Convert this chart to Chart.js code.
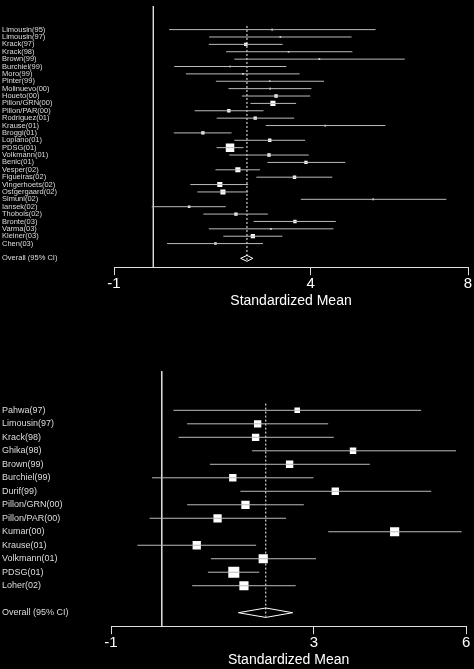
<!DOCTYPE html>
<html><head><meta charset="utf-8">
<script src="https://cdn.jsdelivr.net/npm/chart.js@4/dist/chart.umd.min.js"></script>
<style>
body{margin:0;background:#000;width:474px;height:669px;overflow:hidden;position:relative}
.box{position:absolute;left:0;width:474px}
</style></head><body>
<div class="box" style="top:0;height:310px"><canvas id="top"></canvas></div>
<div class="box" style="top:358px;height:311px"><canvas id="bottom"></canvas></div>
<script>
// top panel
const topStudies = ['Limousin(95)','Limousin(97)','Krack(97)','Krack(98)','Brown(99)','Burchiel(99)','Moro(99)','Pinter(99)','Molinuevo(00)','Houeto(00)','Pillon/GRN(00)','Pillon/PAR(00)','Rodriguez(01)','Krause(01)','Broggi(01)','Lopiano(01)','PDSG(01)','Volkmann(01)','Benic(01)','Vesper(02)','Figueiras(02)','Vingerhoets(02)','Ostgergaard(02)','Simuni(02)','Iansek(02)','Thobois(02)','Bronte(03)','Varma(03)','Kleiner(03)','Chen(03)'];
const topMean = [3.02,3.23,2.35,3.44,4.22,1.95,2.28,2.96,2.97,3.12,3.04,1.92,2.59,4.37,1.26,2.96,1.95,2.94,3.88,2.15,3.59,1.69,1.77,5.59,0.91,2.10,3.60,2.99,2.53,1.58];
const topLow  = [0.40,1.42,1.41,1.85,2.06,0.53,0.83,1.59,1.91,2.25,2.47,1.05,1.61,2.86,0.52,2.06,1.61,1.93,2.90,1.58,2.62,0.94,1.12,3.75,-0.04,1.27,2.55,1.41,1.78,0.35];
const topHigh = [5.65,5.04,3.29,5.06,6.39,3.38,3.72,4.34,4.02,3.99,3.63,2.80,3.58,5.90,1.99,3.86,2.29,3.95,4.88,2.71,4.55,2.41,2.41,7.45,1.84,2.91,4.64,4.58,3.28,2.79];
const topWeight = [1,1,2,1,1,1,1,1,1,2,3,2,2,1,2,2,5,2,2,3,2,3,3,1,1.5,2,2,1,2.5,1.5];
const topOverall = [2.22, 2.38, 2.53];
const topTicks = [-1, 4, 8];

// bottom panel
const botStudies = ['Pahwa(97)','Limousin(97)','Krack(98)','Ghika(98)','Brown(99)','Burchiel(99)','Durif(99)','Pillon/GRN(00)','Pillon/PAR(00)','Kumar(00)','Krause(01)','Volkmann(01)','PDSG(01)','Loher(02)'];
const botMean = [2.67,1.89,1.85,3.77,2.52,1.40,3.42,1.65,1.10,4.59,0.69,2.00,1.42,1.62];
const botLow  = [0.23,0.50,0.33,1.78,0.95,-0.19,1.55,0.50,-0.24,3.28,-0.48,0.97,0.91,0.60];
const botHigh = [5.11,3.28,3.39,5.80,4.10,2.99,5.31,2.80,2.45,5.91,1.86,3.04,1.92,2.64];
const botWeight = [3,4,4,3.5,4,4,4,4.5,4.5,5,4.5,5,6,5];
const botOverall = [1.51, 2.05, 2.58];
const botTicks = [-1, 3, 6];

function forest(id, names, mean, low, high, weight, overall, ticks, opt) {
  const labels = names.concat(['', 'Overall (95% CI)']);
  const ov = labels.length - 1;
  const h = opt.dh;
  const ds = low.map((l, i) => ({
    type: 'line', data: [{ x: l, y: i }, { x: high[i], y: i }],
    borderColor: '#bbb', borderWidth: 1, pointRadius: 0
  }));
  ds.push(
    { type: 'scatter', data: mean.map((m, i) => ({ x: m, y: i })), pointStyle: 'rect',
      pointRadius: weight.map(w => w * opt.k), backgroundColor: '#fff', borderWidth: 0 },
    { type: 'line', data: [{ x: overall[0], y: ov }, { x: overall[1], y: ov - h }, { x: overall[2], y: ov }, { x: overall[1], y: ov + h }, { x: overall[0], y: ov }],
      borderColor: '#fff', borderWidth: 1, pointRadius: 0, fill: false, tension: 0 },
    { type: 'line', data: [{ x: overall[1], y: -0.5 }, { x: overall[1], y: ov + 0.3 }],
      borderColor: '#fff', borderWidth: 1, borderDash: [2, 2], pointRadius: 0 },
    { type: 'line', data: [{ x: 0, y: opt.zeroTop }, { x: 0, y: opt.yMax }],
      borderColor: '#ddd', borderWidth: 1, pointRadius: 0 }
  );
  new Chart(document.getElementById(id), {
    type: 'scatter',
    data: { datasets: ds },
    options: {
      responsive: true, maintainAspectRatio: false, animation: false,
      layout: { padding: { left: 2, right: 3, top: 0 } },
      plugins: { legend: { display: false }, tooltip: { enabled: false } },
      scales: {
        y: {
          type: 'linear', reverse: true, min: opt.yMin, max: opt.yMax,
          grid: { display: false }, border: { display: false },
          afterBuildTicks: s => { s.ticks = labels.map((l, i) => ({ value: i })); },
          afterFit: s => { s.width = opt.left; },
          ticks: { color: '#ddd', crossAlign: 'far', autoSkip: false, padding: 0,
            font: { family: 'Liberation Sans', size: opt.fs },
            callback: v => labels[v] }
        },
        x: {
          type: 'linear', min: ticks[0], max: ticks[ticks.length - 1],
          grid: { drawOnChartArea: false, color: '#ddd', tickLength: 8 },
          border: { color: '#ddd', width: 1 },
          afterBuildTicks: s => { s.ticks = ticks.map(v => ({ value: v })); },
          ticks: { color: '#fff', font: { family: 'Liberation Sans', size: 15 }, padding: 0, maxRotation: 0 },
          title: { display: true, text: 'Standardized Mean', color: '#fff', font: { family: 'Liberation Sans', size: 14 }, padding: 0 }
        }
      }
    }
  });
}

forest('top', topStudies, topMean, topLow, topHigh, topWeight, topOverall, topTicks,
  { k: 1.2, fs: 7.5, left: 112, dh: 0.4, yMin: -3.2, yMax: 32.2, zeroTop: -3.2 });
forest('bottom', botStudies, botMean, botLow, botHigh, botWeight, botOverall, botTicks,
  { k: 1.3, fs: 9, left: 109, dh: 0.35, yMin: -3.3, yMax: 16, zeroTop: -2.9 });
</script>
</body></html>
